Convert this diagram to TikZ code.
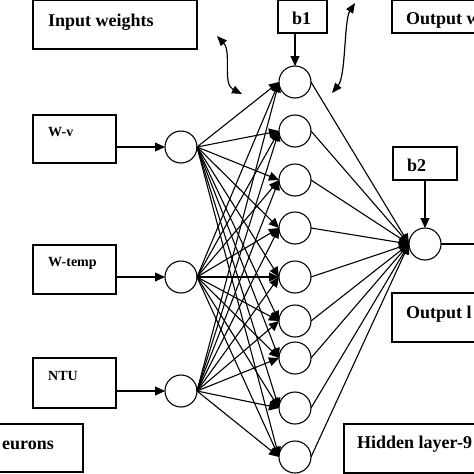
\documentclass[tikz,border=0pt]{standalone}
\usepackage{fontspec}
\setmainfont{Liberation Serif}
\usetikzlibrary{arrows.meta}
\begin{document}
\begin{tikzpicture}[x=1pt,y=-1pt,
  box/.style={draw, line width=1.2pt, inner sep=0pt, outer sep=0pt},
  neuron/.style={draw, circle, line width=1.1pt, minimum size=32pt, inner sep=0pt, outer sep=0pt},
  bigtxt/.style={anchor=base west, inner sep=0pt, font=\bfseries\fontsize{18}{20}\selectfont},
  smalltxt/.style={anchor=base west, inner sep=0pt, font=\bfseries\fontsize{14}{16}\selectfont},
  conn/.style={line width=1.1pt, -{Triangle[length=10pt,width=9pt]}},
  wire/.style={line width=1.1pt},
  twoway/.style={line width=1.2pt, {Triangle[length=10pt,width=8pt]}-{Triangle[length=10pt,width=8pt]}}
]
\useasboundingbox (0,0) rectangle (474,474);
\clip (0,0) rectangle (474,474);
% boxes
\node[box, minimum width=164pt, minimum height=48.3pt] (iw) at (115,24.85) {};
\node[box, minimum width=49pt, minimum height=32.3pt] (bone) at (302.5,16.85) {};
\node[box, minimum width=98pt, minimum height=32.3pt] (ow) at (441,16.85) {};
\node[box, minimum width=83pt, minimum height=48pt] (wv) at (74.5,139) {};
\node[box, minimum width=83pt, minimum height=49pt] (wt) at (74.5,269.5) {};
\node[box, minimum width=83pt, minimum height=50pt] (ntu) at (74.5,383) {};
\node[box, minimum width=64pt, minimum height=33pt] (btwo) at (425,163.5) {};
\node[box, minimum width=98pt, minimum height=49pt] (ol) at (441,317.5) {};
\node[box, minimum width=146pt, minimum height=49pt] (hl) at (417,448.5) {};
\node[box, minimum width=93pt, minimum height=48pt] (neu) at (36.5,448) {};
% texts
\node[bigtxt] (tiw) at (48,26) {Input weights};
\node[bigtxt] (tb1) at (292,24) {b1};
\node[bigtxt] (tow) at (406,24) {Output w};
\node[smalltxt] (twv) at (48,136) {W-v};
\node[smalltxt] (twt) at (48,266) {W-temp};
\node[smalltxt] (tntu) at (48,380) {NTU};
\node[bigtxt] (tb2) at (407,171) {b2};
\node[bigtxt] (tol) at (406,318) {Output l};
\node[bigtxt] (thl) at (357,448) {Hidden layer-9};
\node[bigtxt] (tneu) at (2,449) {eurons};
% neurons
\node[neuron] (i1) at (181,147) {};
\node[neuron] (i2) at (181,277) {};
\node[neuron] (i3) at (181,391) {};
\foreach \k/\yy in {1/82,2/131,3/180,4/228,5/277,6/321,7/358,8/408,9/457}
  \node[neuron] (h\k) at (295,\yy) {};
\node[neuron] (o) at (425,244) {};
\coordinate (oend) at (476,244);
% input arrows
\draw[conn] (i1 -| wv.east) -- (i1.west);
\draw[conn] (i2 -| wt.east) -- (i2.west);
\draw[conn] (i3 -| ntu.east) -- (i3.west);
% input to hidden
\foreach \i in {1,2,3}
  \foreach \k in {1,...,9}
    \draw[conn] (i\i.east) -- (h\k.west);
% hidden to output
\foreach \k in {1,...,9}
  \draw[conn] (h\k.east) -- (o.west);
% biases
\draw[conn] (h1 |- bone.south) -- (h1.north);
\draw[conn] (btwo.south) -- (o.north);
\draw[wire] (o.east) -- (oend);
% curved two-way arrows
\coordinate (ca1) at (217,36);
\coordinate (ca2) at (242,94);
\coordinate (cb1) at (355,3);
\coordinate (cb2) at (332,93);
\draw[twoway] (ca1) .. controls (232,52) and (222,84) .. (ca2);
\draw[twoway] (cb1) .. controls (344,20) and (346,76) .. (cb2);
\end{tikzpicture}
\end{document}
